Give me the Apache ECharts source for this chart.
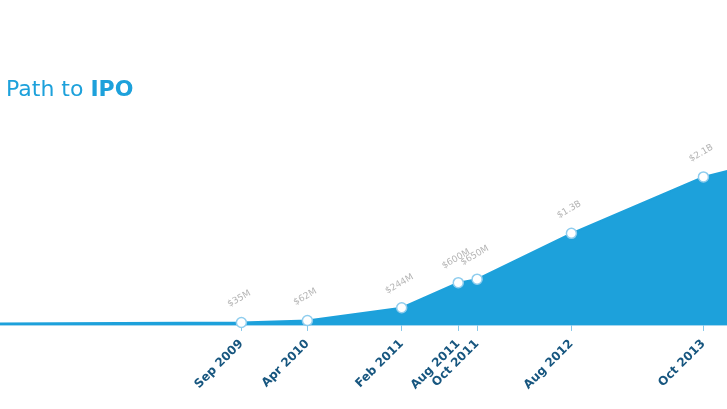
<!DOCTYPE html>
<html>
<head>
<meta charset="utf-8">
<script src="https://cdn.jsdelivr.net/npm/echarts@6/dist/echarts.min.js"></script>
<style>html,body{margin:0;padding:0;background:#fff}#chart{width:727px;height:409px}</style>
</head>
<body>
<div id="chart"></div>
<script>
// months counted from Jan 2009 (0 = Jan 2009)
const months = [-18, 8, 15, 25, 31, 33, 43, 57, 60];
const labels = ['', 'Sep 2009', 'Apr 2010', 'Feb 2011', 'Aug 2011', 'Oct 2011', 'Aug 2012', 'Oct 2013', 'Jan 2014'];
const valuations = [0.02, 0.035, 0.062, 0.244, 0.6, 0.65, 1.3, 2.1, 2.2];
const valueTexts = ['', '$35M', '$62M', '$244M', '$600M', '$650M', '$1.3B', '$2.1B', ''];

const blue = '#1da1db';
let chart = echarts.init(document.getElementById('chart'));
let points = months.map((m, i) => ({
  value: [m, valuations[i]],
  symbolSize: i === 0 ? 0 : 10,
  label: { show: valueTexts[i] !== '', formatter: valueTexts[i] }
}));
let option = {
  animation: false,
  grid: { left: 0, right: 0, top: 99.4, bottom: 77 },
  title: {
    text: 'Path to {b|IPO}',
    left: 1, top: 74,
    textStyle: {
      color: blue, fontSize: 22, fontWeight: 'normal', fontFamily: 'DejaVu Sans',
      rich: { b: { color: blue, fontSize: 22, fontWeight: 'bold', fontFamily: 'DejaVu Sans' } }
    }
  },
  xAxis: {
    type: 'value', min: -17.6, max: 59.5,
    splitLine: { show: false },
    axisLine: { lineStyle: { color: '#86c8ea', width: 1.5 } },
    axisTick: { customValues: months.slice(1), length: 6, lineStyle: { color: '#86c8ea' } },
    axisLabel: {
      customValues: months.slice(1), rotate: 45, color: '#17567f', fontSize: 12,
      fontWeight: 'bold', fontFamily: 'DejaVu Sans', margin: 10,
      formatter: v => labels[months.indexOf(v)] || ''
    }
  },
  yAxis: {
    type: 'value', min: -0.1, max: 3.2, show: false, splitLine: { show: false }
  },
  series: [{
    type: 'line',
    data: points,
    clip: true,
    symbol: 'circle',
    itemStyle: { color: '#fff', borderColor: '#8fcdee', borderWidth: 1.5 },
    lineStyle: { color: blue, width: 2 },
    areaStyle: { color: blue, opacity: 1, origin: 0 },
    label: {
      position: 'top', distance: 14, rotate: 30, color: '#b5b5b5', fontSize: 9,
      fontFamily: 'DejaVu Sans'
    }
  }],
  graphic: [
    { type: 'text', left: 688, top: 224, style: { text: 'Jan, 2014', fill: '#fff', fontSize: 12, fontFamily: 'DejaVu Sans' } },
    { type: 'text', left: 686, top: 250, style: { text: '$1', fill: '#fff', fontSize: 40, fontWeight: 'bold', fontFamily: 'DejaVu Sans' } },
    { type: 'text', left: 688, top: 303, style: { text: 'IPO Valuation', fill: '#fff', fontSize: 18, fontFamily: 'DejaVu Sans' } }
  ]
};
chart.setOption(option);
</script>
</body>
</html>
